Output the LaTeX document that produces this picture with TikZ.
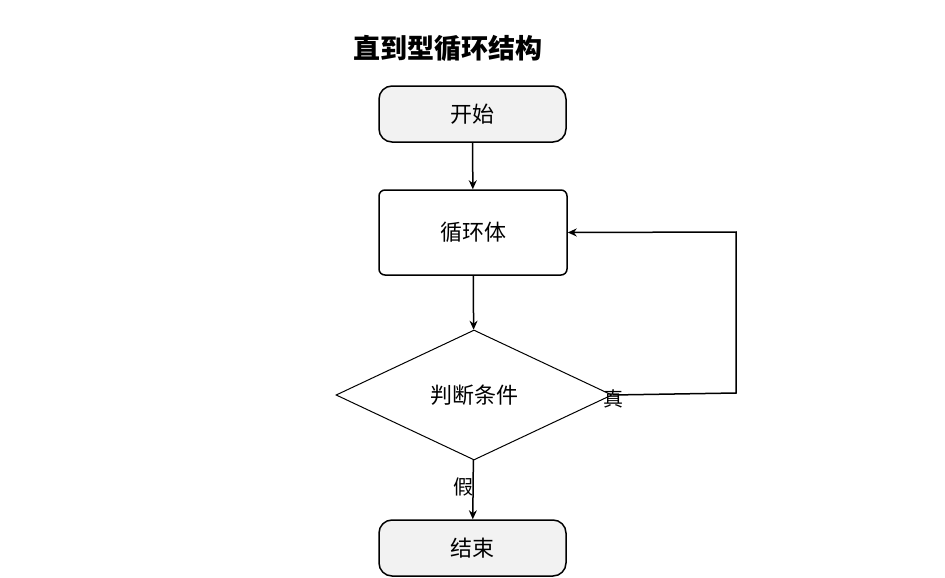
\documentclass[tikz,border=0pt]{standalone}
\usepackage{fontspec}
\newfontfamily\cjk{Noto Sans CJK SC}
\usetikzlibrary{shapes.geometric,arrows.meta,positioning}
\tikzset{
  term/.style={draw, line width=1.5pt, rounded corners=13pt, fill=black!5, minimum width=187pt, minimum height=56pt, font=\cjk\fontsize{22}{26}\selectfont},
  proc/.style={draw, line width=1.5pt, rounded corners=6pt, fill=white, minimum width=188pt, minimum height=85pt, font=\cjk\fontsize{22}{26}\selectfont},
  cond/.style={draw, line width=1pt, diamond, aspect=2.1, inner sep=0pt, minimum width=276pt, minimum height=130pt, font=\cjk\fontsize{22}{26}\selectfont},
  link/.style={line width=1.5pt, -{Stealth[length=9pt,width=8pt]}},
  lbl/.style={font=\cjk\fontsize{20}{24}\selectfont, inner sep=1pt}
}
\begin{document}
\begin{tikzpicture}[x=1pt,y=-1pt]
\useasboundingbox (0,0) rectangle (945,578);
% titre
\node[font=\cjk\bfseries\fontsize{27}{32}\selectfont] (title) at (448,48) {直到型循环结构};
% noeuds
\node[term] (start) at (472.5,114) {开始};
\node[proc] (body) at (473,232.5) {循环体};
\node[cond] (test) at (474,395) {判断条件};
\node[term] (stop) at (472.5,548) {结束};
\coordinate (back) at (736,393);
\coordinate (top) at (736,232);
% liaisons
\draw[link] (start) -- (body);
\draw[link] (body) -- (test);
\draw[link] (test) -- (stop) node[lbl, pos=0.45, left=-2pt] {假};
\draw[link] (test.east) -- (back) -- (top) -- (body.east);
\node[lbl, anchor=west] (yes) at (602,399) {真};
\end{tikzpicture}
\end{document}
